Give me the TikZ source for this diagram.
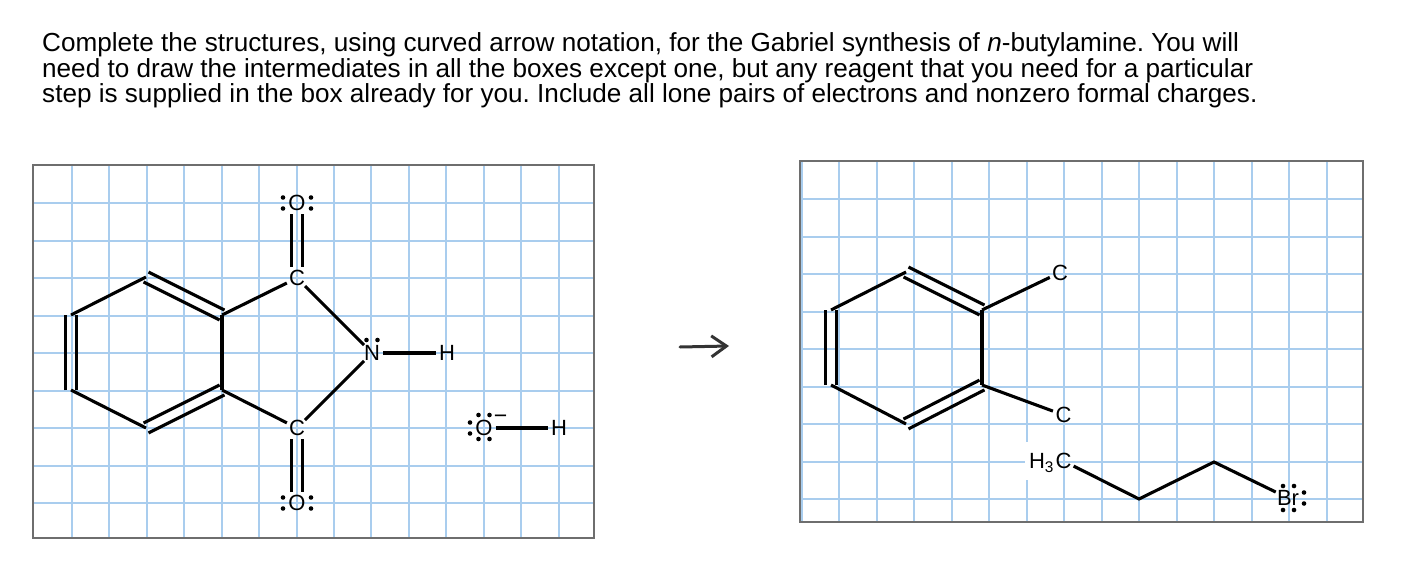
\documentclass[tikz,border=0pt]{standalone}
\usepackage{fontspec}
\setmainfont{Liberation Sans}
\usetikzlibrary{calc}
\usetikzlibrary{arrows.meta}
\definecolor{gridblue}{HTML}{A9CDEE}
\definecolor{framegray}{HTML}{6E6E6E}
\tikzset{>={Straight Barb[length=15pt,width=21pt,line width=3pt]}}
\tikzset{gridline/.style={gridblue, line width=2pt}}
\tikzset{frameline/.style={framegray, line width=1.8pt}}
\tikzset{bond/.style={black, line width=3.1pt}}
\tikzset{atom/.style={circle, inner sep=0pt, minimum size=20pt, text height=15.5pt, text depth=0pt, font=\fontsize{22}{22}\selectfont}}
\newcommand{\dblbond}[3][]{
    \draw[bond, #1]($(#2.center)!5.5pt!90:(#3.center)$)--($(#3.center)!5.5pt!-90:(#2.center)$);
    \draw[bond, #1]($(#2.center)!5.5pt!-90:(#3.center)$)--($(#3.center)!5.5pt!90:(#2.center)$);
}
\newcommand{\lonedots}[2]{
    \foreach \dx/\dy in {#2} \fill ([shift={(\dx,\dy)}]#1.center) circle[radius=2.3pt];
}

\begin{document}
\begin{tikzpicture}[x=1pt, y=-1pt]
    \useasboundingbox (0, 0) rectangle (1402, 580);
    \node (intro) at (42, 32) [anchor=north west, inner sep=0pt, align=left, font=\fontsize{26.12}{25.9}\selectfont\frenchspacing] {Complete the structures, using curved arrow notation, for the Gabriel synthesis of \textit{n}-butylamine. You will\\need to draw the intermediates in all the boxes except one, but any reagent that you need for a particular\\step is supplied in the box already for you. Include all lone pairs of electrons and nonzero formal charges.};

    \foreach \i in {0,...,13} \draw[gridline]({71.8+37.46*\i}, 165)--({71.8+37.46*\i}, 538);
    \foreach \j in {0,...,8} \draw[gridline](33, {203+37.5*\j})--(594, {203+37.5*\j});
    \draw[frameline](33, 165)rectangle(594, 538);

    \foreach \i in {-1,...,13} \draw[gridline]({839+37.5*\i}, 161)--({839+37.5*\i}, 522);
    \foreach \j in {0,...,8} \draw[gridline](800, {199+37.5*\j})--(1363, {199+37.5*\j});
    \draw[frameline](800, 161)rectangle(1363, 522);

    \coordinate (la) at (71, 315);
    \coordinate (lb) at (146, 277);
    \coordinate (lc) at (222, 315);
    \coordinate (ld) at (222, 390);
    \coordinate (le) at (146, 428);
    \coordinate (lf) at (71, 390);
    \node[atom] (otop) at (297, 203) {O};
    \node[atom] (ctop) at (297, 278) {C};
    \node[atom] (nitro) at (372, 353) {N};
    \node[atom] (hnitro) at (447, 353) {H};
    \node[atom] (cbot) at (297, 428) {C};
    \node[atom] (obot) at (297, 503) {O};
    \node[atom] (ohyd) at (484, 428) {O};
    \node[atom] (hhyd) at (559, 428) {H};
    \node (minus) at (500.5, 419.5) [inner sep=0pt, font=\fontsize{23}{23}\selectfont] {−};
    \draw[bond](la)--(lb);
    \draw[bond](lc)--(ld);
    \draw[bond](le)--(lf);
    \dblbond{lb}{lc}
    \dblbond{ld}{le}
    \dblbond{lf}{la}
    \draw[bond](lc)--(ctop);
    \draw[bond](ld)--(cbot);
    \draw[bond](ctop)--(nitro);
    \draw[bond](cbot)--(nitro);
    \draw[bond](nitro)--(hnitro);
    \draw[bond](ohyd)--(hhyd);
    \dblbond[shorten <=11pt, shorten >=11pt]{otop}{ctop}
    \dblbond[shorten <=11pt, shorten >=11pt]{cbot}{obot}
    \lonedots{otop}{-14/-5.5, -14/5.5, 14/-5.5, 14/5.5}
    \lonedots{obot}{-14/-5.5, -14/5.5, 14/-5.5, 14/5.5}
    \lonedots{nitro}{-5.5/-13, 5.5/-13}
    \lonedots{ohyd}{-14/-5.5, -14/5.5, -5.5/-13, 5.5/-13, -5.5/11, 5.5/11}

    \coordinate (arrowa) at (680, 347);
    \coordinate (arrowb) at (729, 346);
    \draw[->, line width=3pt, black!80, line cap=round](arrowa)--(arrowb);

    \coordinate (ra) at (831, 310);
    \coordinate (rb) at (906, 272);
    \coordinate (rc) at (982, 310);
    \coordinate (rd) at (982, 385);
    \coordinate (re) at (906, 424);
    \coordinate (rf) at (831, 385);
    \coordinate (chaina) at (1139, 499);
    \coordinate (chainb) at (1214, 462);
    \node[atom] (cup) at (1060, 272.5) {C};
    \node[atom] (cdown) at (1063.5, 415) {C};
    \node[atom, rectangle, fill=white, minimum width=33pt, minimum height=38pt] (hthree) at (1041.5, 461) {H\textsubscript{3}};
    \node[atom] (cthree) at (1063.5, 461) {C};
    \node[atom] (brom) at (1288, 498) {Br};
    \draw[bond](ra)--(rb);
    \draw[bond](rc)--(rd);
    \draw[bond](re)--(rf);
    \dblbond{rb}{rc}
    \dblbond{rd}{re}
    \dblbond{rf}{ra}
    \draw[bond](rc)--(cup);
    \draw[bond](rd)--(cdown);
    \draw[bond](cthree)--(chaina)--(chainb)--(brom);
    \lonedots{brom}{-5/-12, 6/-12, -5/12, 6/12, 16/-5.5, 16/5.5}
\end{tikzpicture}
\end{document}
